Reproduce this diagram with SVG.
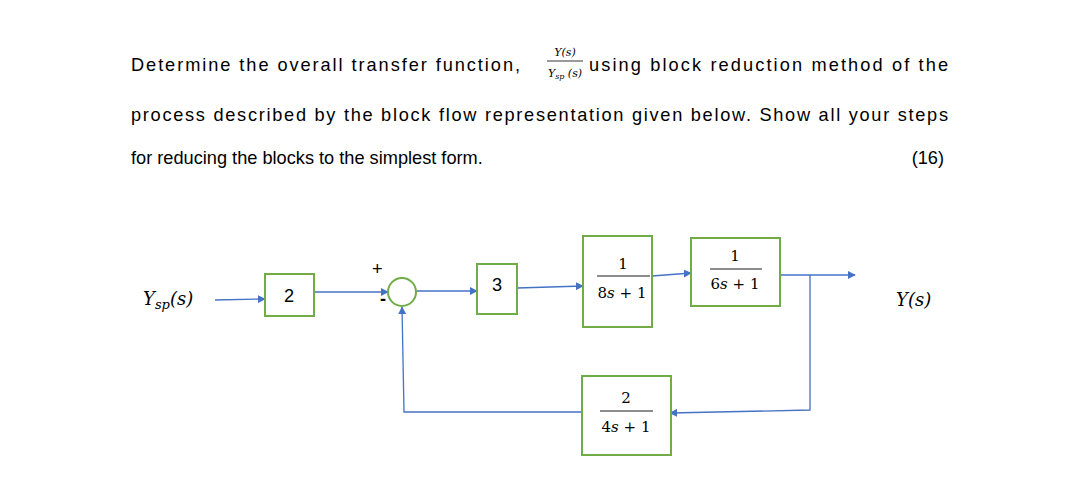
<svg xmlns="http://www.w3.org/2000/svg" width="1080" height="478" viewBox="0 0 1080 478">
<defs>
<marker id="ah" viewBox="0 0 10 10" refX="9" refY="5" markerWidth="8" markerHeight="8" markerUnits="userSpaceOnUse" orient="auto"><path d="M0,0 L10,5 L0,10 z" fill="#4472C4"/></marker>
<style>
.t{font-family:"Liberation Sans",Arial,sans-serif;font-size:18.2px;fill:#000}
.m{font-family:"DejaVu Serif","Liberation Serif",serif;font-style:italic;fill:#000}
.n{font-family:"DejaVu Serif","Liberation Serif",serif;fill:#000;font-size:15px}
.b{fill:#fff;stroke:#70AD47;stroke-width:2}
.c{fill:none;stroke:#4472C4;stroke-width:1.3}
.a{marker-end:url(#ah)}
</style>
</defs>
<rect width="1080" height="478" fill="#fff"/>
<text class="t" x="131" y="71" textLength="389" lengthAdjust="spacing">Determine the overall transfer function,</text>
<text class="m" x="565" y="56" font-size="11" text-anchor="middle">Y(s)</text>
<line x1="547" y1="61" x2="583" y2="61" stroke="#000" stroke-width="0.8"/>
<text class="m" x="565" y="77" font-size="11" text-anchor="middle">Y<tspan font-size="8" dy="2">sp</tspan><tspan dy="-2"> (s)</tspan></text>
<text class="t" x="589" y="71" textLength="359" lengthAdjust="spacing">using block reduction method of the</text>
<text class="t" x="131" y="121" textLength="817" lengthAdjust="spacing">process described by the block flow representation given below. Show all your steps</text>
<text class="t" x="131" y="164">for reducing the blocks to the simplest form.</text>
<text class="t" x="944" y="164" text-anchor="end">(16)</text>
<g id="connectors">
<path class="c a" d="M215,300 L265,299"/>
<path class="c a" d="M314,292 L388,292"/>
<path class="c a" d="M416,291 L477,291"/>
<path class="c a" d="M517,288 L583,286"/>
<path class="c a" d="M652,276 L691,273"/>
<path class="c a" d="M780,275 L855,275"/>
<path class="c a" d="M810,275 L810,410 L670,413"/>
<path class="c a" d="M582,412 L404,412 L402,307"/>
</g>
<g id="ysp"><text class="m" x="143" y="305" font-size="18">Y<tspan font-size="13" dy="4">sp</tspan><tspan dy="-4">(s)</tspan></text></g>
<g id="gain2"><rect class="b" x="265" y="274" width="49" height="42"/><text class="t" x="289" y="302" text-anchor="middle" font-size="15">2</text></g>
<g id="sum"><circle cx="402" cy="292" r="14" fill="#fff" stroke="#70AD47" stroke-width="2"/>
<text class="t" x="372" y="275" font-size="12">+</text><text class="t" x="380" y="305" font-size="14" font-weight="bold">-</text></g>
<g id="gain3"><rect class="b" x="477" y="264" width="40" height="50"/><text class="t" x="497" y="291" text-anchor="middle" font-size="15">3</text></g>
<g id="g8"><rect class="b" x="583" y="236" width="69" height="91"/>
<text class="n" x="623" y="269" text-anchor="middle">1</text><line x1="597" y1="276" x2="650" y2="276" stroke="#000" stroke-width="0.9"/>
<text class="n" x="622" y="298" text-anchor="middle">8<tspan font-style="italic">s</tspan> + 1</text></g>
<g id="g6"><rect class="b" x="691" y="238" width="89" height="68"/>
<text class="n" x="735" y="261" text-anchor="middle">1</text><line x1="710" y1="269" x2="762" y2="269" stroke="#000" stroke-width="0.9"/>
<text class="n" x="735" y="289" text-anchor="middle">6<tspan font-style="italic">s</tspan> + 1</text></g>
<g id="g4"><rect class="b" x="582" y="376" width="89" height="79"/>
<text class="n" x="626" y="403" text-anchor="middle">2</text><line x1="600" y1="411" x2="653" y2="411" stroke="#000" stroke-width="0.9"/>
<text class="n" x="626" y="432" text-anchor="middle">4<tspan font-style="italic">s</tspan> + 1</text></g>
<g id="y"><text class="m" x="896" y="306" font-size="18">Y(s)</text></g>
</svg>
